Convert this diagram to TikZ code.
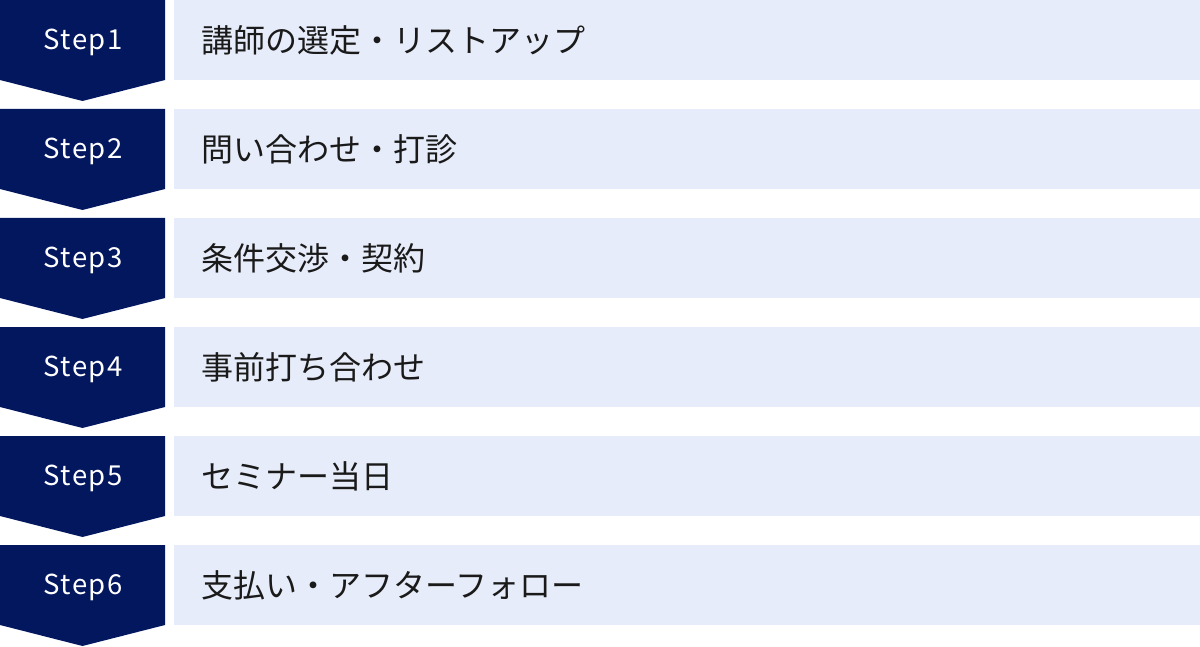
\documentclass[tikz,border=0pt]{standalone}
\usepackage{fontspec}
\newfontfamily\jpfont{Noto Sans CJK JP}
\newfontfamily\stepfont[LetterSpace=6]{Noto Sans CJK JP}
\definecolor{navy}{HTML}{03175F}
\definecolor{paleblue}{HTML}{E6ECF9}
\definecolor{ink}{HTML}{1A1A1A}
\tikzset{
  steplabel/.style={text=white, font=\stepfont\fontsize{27.5}{32}\selectfont, inner sep=0pt},
  tasklabel/.style={text=ink, anchor=west, font=\jpfont\fontsize{32}{36}\selectfont, inner sep=0pt}
}
\begin{document}
\begin{tikzpicture}[x=1pt, y=1pt]

    \useasboundingbox (0,0) rectangle (1200,-647);

    % Les six étapes
    \foreach \i/\txt in {1/講師の選定・リストアップ, 2/問い合わせ・打診, 3/条件交渉・契約,
                         4/事前打ち合わせ, 5/セミナー当日, 6/支払い・アフターフォロー} {
        \pgfmathsetmacro\y{-109*(\i-1)}
        % Flèche vers le bas
        \fill[navy] (0,\y) -- ++(165,0) -- ++(0,-80) -- ++(-82.5,-21) -- ++(-82.5,21) -- cycle;
        \node[steplabel] (step\i) at (83,{\y-42}) {Step\i};
        % Bande claire
        \fill[paleblue] (174,\y) rectangle ++(1026,-80);
        \node[tasklabel] (task\i) at (201,{\y-40}) {\txt};
    }

\end{tikzpicture}
\end{document}
